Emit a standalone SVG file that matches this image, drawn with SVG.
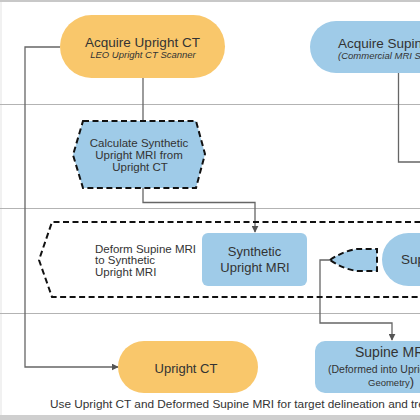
<svg xmlns="http://www.w3.org/2000/svg" width="420" height="420" viewBox="0 0 420 420">
<defs>
<style>
.lane{stroke:#b3b3b3;stroke-width:1;fill:none}
.conn{stroke:#666;stroke-width:1.3;fill:none}
.orange{fill:#f9c76b}
.blue{fill:#9fcbe8}
.dash{stroke:#111;stroke-width:2;stroke-dasharray:6 3.5}
.t{font-family:"Liberation Sans",Arial,sans-serif;fill:#333}
.i{font-family:"Liberation Sans",Arial,sans-serif;font-style:italic;fill:#333}
</style>
<marker id="arr" viewBox="0 0 10 10" refX="9" refY="5" markerWidth="7" markerHeight="7" markerUnits="userSpaceOnUse" orient="auto">
<path d="M0,0 L10,5 L0,10 Z" fill="#555"/>
</marker>
</defs>
<rect x="0" y="0" width="420" height="420" fill="#fff"/>
<rect x="0" y="0" width="420" height="2" fill="#c8c8c8"/>
<rect x="0" y="415" width="420" height="5" fill="#cfcfcf"/>
<line x1="1" y1="2" x2="1" y2="415" stroke="#ececec" stroke-width="1.5"/>
<g id="lanes">
<line class="lane" x1="0" y1="104.5" x2="420" y2="104.5"/>
<line class="lane" x1="0" y1="208.5" x2="420" y2="208.5"/>
<line class="lane" x1="0" y1="313.5" x2="420" y2="313.5"/>
</g>
<g id="connectors">
<path class="conn" d="M60,47 H25 V367 H118" marker-end="url(#arr)"/>
<path class="conn" d="M143,78 V121"/>
<path class="conn" d="M143,188 V202.5 H255 V232" marker-end="url(#arr)"/>
<path class="conn" d="M398.5,73 V162 H420"/>
<path class="conn" d="M330,260 H320 V323 H392 V340" marker-end="url(#arr)"/>
</g>
<g id="acquire-upright-ct">
<rect class="orange" x="60" y="15" width="165" height="63" rx="31.5"/>
<text class="t" x="142.5" y="47" font-size="13.5" text-anchor="middle">Acquire Upright CT</text>
<text class="i" x="143" y="58" font-size="9.5" text-anchor="middle">LEO Upright CT Scanner</text>
</g>
<g id="acquire-supine-mri">
<rect class="blue" x="310" y="21" width="170" height="52" rx="26"/>
<text class="t" x="338" y="47.5" font-size="13.5">Acquire Supine MRI</text>
<text class="i" x="338" y="58.5" font-size="9.5">(Commercial MRI Scanner)</text>
</g>
<g id="calculate-synthetic">
<polygon class="blue dash" points="83,121 196,121 205,154 196,188 83,188 73,155"/>
<text class="t" x="139" y="147" font-size="11.5" text-anchor="middle">Calculate Synthetic</text>
<text class="t" x="139" y="159" font-size="11.5" text-anchor="middle">Upright MRI from</text>
<text class="t" x="140" y="171" font-size="11.5" text-anchor="middle">Upright CT</text>
</g>
<g id="deform-process">
<path class="dash" fill="none" d="M430,222 H52 L39,260 L52,297 H430"/>
<text class="t" x="95" y="252.5" font-size="11.5">Deform Supine MRI</text>
<text class="t" x="95" y="264" font-size="11.5">to Synthetic</text>
<text class="t" x="95" y="275.5" font-size="11.5">Upright MRI</text>
</g>
<g id="synthetic-upright-mri">
<rect class="blue" x="202" y="233" width="105" height="53" rx="6"/>
<text class="t" x="254.5" y="256" font-size="13" text-anchor="middle">Synthetic</text>
<text class="t" x="255" y="272" font-size="13" text-anchor="middle">Upright MRI</text>
</g>
<g id="connector-shape">
<path class="blue dash" stroke-width="1.6" stroke-dasharray="4 2.5" d="M330,260 Q343,251 357,249 H377 V271 H357 Q343,269 330,260 Z"/>
</g>
<g id="supine-mri-input">
<rect class="blue" x="382" y="233" width="110" height="53" rx="26.5"/>
<text class="t" x="401" y="264" font-size="13.5">Supine MRI</text>
</g>
<g id="upright-ct">
<rect class="orange" x="118" y="341" width="140" height="52" rx="26"/>
<text class="t" x="186" y="373" font-size="13" text-anchor="middle">Upright CT</text>
</g>
<g id="supine-mri-deformed">
<rect class="blue" x="315" y="341" width="140" height="52" rx="10"/>
<text class="t" x="355" y="357" font-size="14">Supine MRI</text>
<text class="t" x="328" y="373" font-size="10.5">(Deformed into Upright</text>
<text class="t" x="368" y="386" font-size="9.5">Geometry<tspan font-size="13">)</tspan></text>
</g>
<text class="t" x="50" y="408" font-size="11.8">Use Upright CT and Deformed Supine MRI for target delineation and treatment planning</text>
</svg>
